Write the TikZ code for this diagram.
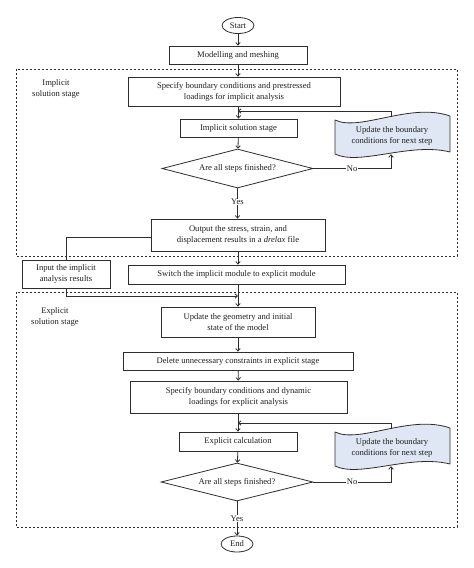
\documentclass[tikz,border=0pt]{standalone}
\usepackage{fontspec}
\setmainfont{Liberation Serif}
\usetikzlibrary{shapes.geometric,arrows.meta,calc}
\definecolor{docblue}{RGB}{222,231,243}
\definecolor{ln}{RGB}{45,45,45}
\tikzset{
  docpath/.style={draw=ln, fill=docblue, line width=0.8pt, line join=round}
}
\newcommand{\mydoc}[3]{%
  \begin{scope}[shift={(#2,#3)}]
    \path[docpath] (-57,-16) .. controls (-32,-4) and (18,-34) .. (58,-20)
      -- (58,16) .. controls (18,6) and (-32,30) .. (-57,18) -- cycle;
    \coordinate (#1b) at (-1,18.2);
    \coordinate (#1t) at (-1,-19.5);
  \end{scope}
  \node[align=center, inner sep=0pt] (#1) at (#2,#3) {Update the boundary\\conditions for next step};
}
\begin{document}
\begin{tikzpicture}[x=1pt,y=-1pt,
  every node/.style={font=\fontsize{8.6}{11}\selectfont, text=black!88, inner sep=1pt},
  box/.style={draw=ln, line width=0.8pt, rectangle, align=center},
  term/.style={draw=ln, line width=0.8pt, ellipse, minimum width=32pt, minimum height=16pt, inner sep=0pt},
  dec/.style={draw=ln, line width=0.8pt, diamond, aspect=3.9, inner sep=0pt},
  stage/.style={draw=ln, line width=0.8pt, dash pattern=on 2.2pt off 1.8pt},
  arr/.style={draw=ln, line width=0.8pt, -{Straight Barb[length=2.5pt,width=4.5pt]}},
  con/.style={draw=ln, line width=0.8pt},
  lab/.style={fill=white, inner sep=0.5pt}
]
\useasboundingbox (0,0) rectangle (474,568);
% stage frames
\draw[stage] (16,69) rectangle (457,256);
\draw[stage] (16,292) rectangle (457,527);
\node[align=center] (implab) at (56,89) {Implicit\\solution stage};
\node[align=center] (explab) at (55,317) {Explicit\\solution stage};
% nodes
\node[term] (start) at (238,25.5) {Start};
\node[box, minimum width=138pt, minimum height=18pt] (model) at (238,55) {Modelling and meshing};
\node[box, minimum width=212pt, minimum height=29pt] (spec1) at (234,91.5) {Specify boundary conditions and prestressed\\loadings for implicit analysis};
\node[box, minimum width=117pt, minimum height=18pt] (impl) at (238.5,128) {Implicit solution stage};
\node[dec, minimum width=151pt, minimum height=39pt] (dia1) at (237.5,168.5) {Are all steps finished?};
\mydoc{doc1}{392}{136}
\node[box, minimum width=174pt, minimum height=32pt] (out) at (238,235) {Output the stress, strain, and\\displacement results in a \textit{drelax} file};
\node[box, minimum width=88pt, minimum height=28pt] (input) at (66,274) {Input the implicit\\analysis results};
\node[box, minimum width=217pt, minimum height=19pt] (switch) at (236.5,274.5) {Switch the implicit module to explicit module};
\node[box, minimum width=154pt, minimum height=30pt] (geom) at (238,322) {Update the geometry and initial\\state of the model};
\node[box, minimum width=230pt, minimum height=18pt] (del) at (238,361) {Delete unnecessary constraints in explicit stage};
\node[box, minimum width=217pt, minimum height=32pt] (spec2) at (238.5,397) {Specify boundary conditions and dynamic\\loadings for explicit analysis};
\node[box, minimum width=118pt, minimum height=19pt] (calc) at (238,441.5) {Explicit calculation};
\node[dec, minimum width=152pt, minimum height=38pt] (dia2) at (237,482) {Are all steps finished?};
\mydoc{doc2}{392}{448}
\node[term] (end) at (237,544) {End};
% helper coordinates
\coordinate (fb1) at (391,111);
\coordinate (fb2) at (391,423);
\coordinate (ax1) at (238,111);
\coordinate (ax2) at (238,423);
\coordinate (inl) at (66,296);
\coordinate (inr) at (238,296);
\coordinate (outl) at (151,237);
% connectors
\draw[arr] (start) -- (model);
\draw[arr] (model.south) -- (model.south |- spec1.north);
\draw[arr] (spec1.south -| impl.north) -- (impl.north);
\draw[arr] (impl) -- (dia1);
\draw[arr] (dia1.south) -- node[lab, pos=0.45] {Yes} (dia1.south |- out.north);
\draw[arr] (dia1.east) -- node[lab, pos=0.5] {No} (dia1.east -| doc1b) -- (doc1b);
\draw[con] (doc1t) -- (fb1);
\draw[arr] (fb1) -- (ax1);
\draw[arr] (out.south) -- (out.south |- switch.north);
\draw[con] (outl) -| (input.north);
\draw[con] (input.south) -- (inl);
\draw[arr] (inl) -- (inr);
\draw[arr] (switch.south -| geom.north) -- (geom.north);
\draw[arr] (geom) -- (del);
\draw[arr] (del) -- (spec2);
\draw[arr] (spec2.south -| calc.north) -- (calc.north);
\draw[arr] (calc) -- (dia2);
\draw[arr] (dia2.south) -- node[lab, pos=0.5] {Yes} (end.north);
\draw[arr] (dia2.east) -- node[lab, pos=0.5] {No} (dia2.east -| doc2b) -- (doc2b);
\draw[con] (doc2t) -- (fb2);
\draw[arr] (fb2) -- (ax2);
\end{tikzpicture}
\end{document}
